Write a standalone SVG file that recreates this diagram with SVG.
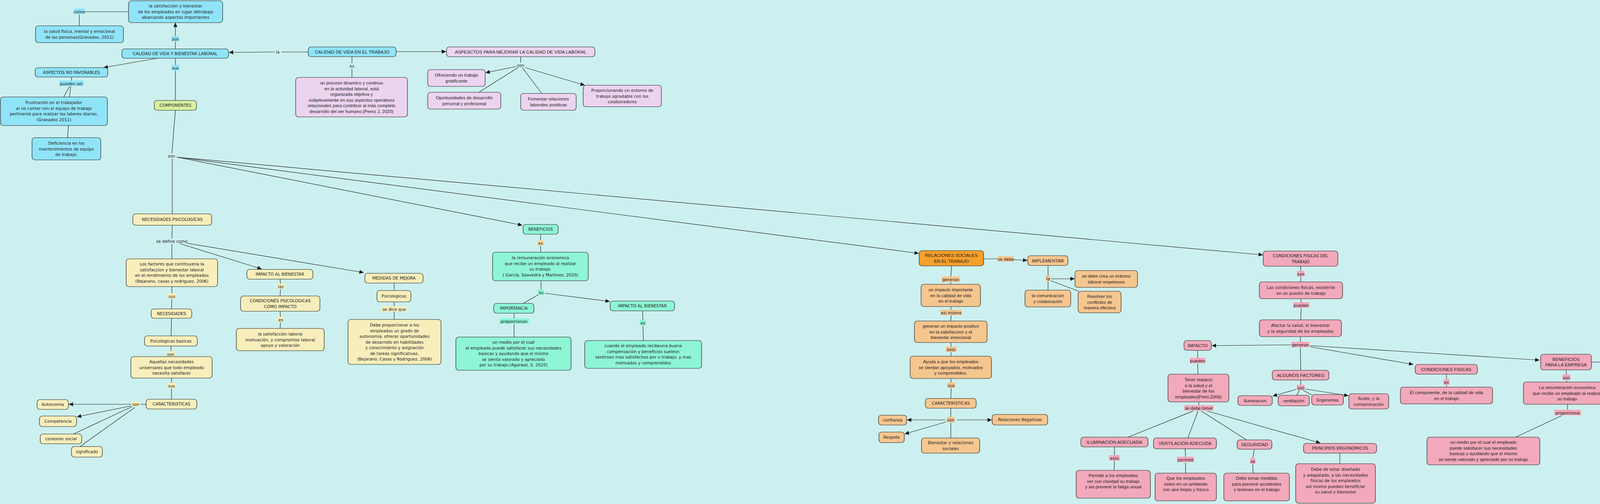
<svg xmlns="http://www.w3.org/2000/svg" width="4429" height="1289" viewBox="0 0 4429 1289">
<defs>
<style>
.bg{fill:#ccf0ef}
rect.n{stroke:#222;stroke-width:1.2}
.b{fill:#8fe4f8}.y{fill:#f7eebb}.g{fill:#d7f0a0}.l{fill:#ecd4f0}.t{fill:#8ef5d6}.o{fill:#f6c68f}.d{fill:#f7a02b}.p{fill:#f2a9bb}.e{fill:#f5dba0}
text{font-family:"DejaVu Sans",Verdana,sans-serif;font-size:10.5px;fill:#222;text-anchor:middle}
text.c{font-family:"Liberation Sans",Arial,sans-serif;font-size:11.5px}
#connectors line{stroke:#222;stroke-width:1.2}
</style>
<marker id="a" markerWidth="12" markerHeight="10" refX="11" refY="5" orient="auto" markerUnits="userSpaceOnUse"><path d="M0,0 L11,5 L0,10 z" fill="#111"/></marker>
</defs>
<rect class="bg" width="4429" height="1289"/>
<g id="connectors">
<line x1="329" y1="30" x2="216" y2="30"/><line x1="203" y1="37" x2="203" y2="66"/>
<line x1="449" y1="125" x2="449" y2="107"/><line x1="449" y1="93" x2="449" y2="58" marker-end="url(#a)"/>
<line x1="402" y1="149" x2="265" y2="173" marker-end="url(#a)"/>
<line x1="183" y1="197" x2="183" y2="207"/><line x1="181" y1="221" x2="178" y2="248"/><line x1="178" y1="221" x2="163" y2="248"/>
<line x1="175" y1="321" x2="173" y2="352"/>
<line x1="449" y1="149" x2="449" y2="167"/><line x1="449" y1="181" x2="449" y2="257"/>
<line x1="449" y1="282" x2="440" y2="392"/>
<line x1="441" y1="406" x2="441" y2="547"/>
<line x1="453" y1="402" x2="1337" y2="576" marker-end="url(#a)"/>
<line x1="453" y1="402" x2="2352" y2="648" marker-end="url(#a)"/>
<line x1="453" y1="402" x2="3233" y2="652" marker-end="url(#a)"/>
<line x1="441" y1="576" x2="440" y2="610"/><line x1="440" y1="624" x2="440" y2="662"/>
<line x1="460" y1="623" x2="670" y2="688" marker-end="url(#a)"/>
<line x1="478" y1="622" x2="931" y2="697" marker-end="url(#a)"/>
<line x1="440" y1="733" x2="440" y2="751"/><line x1="440" y1="765" x2="439" y2="790"/>
<line x1="439" y1="814" x2="438" y2="859"/>
<line x1="438" y1="885" x2="437" y2="912"/>
<line x1="439" y1="967" x2="439" y2="980"/><line x1="439" y1="994" x2="439" y2="1021"/>
<line x1="374" y1="1034" x2="360" y2="1034"/>
<line x1="336" y1="1034" x2="176" y2="1034" marker-end="url(#a)"/>
<line x1="336" y1="1038" x2="197" y2="1066" marker-end="url(#a)"/>
<line x1="338" y1="1040" x2="188" y2="1110"/>
<line x1="345" y1="1042" x2="205" y2="1142"/>
<line x1="789" y1="133" x2="720" y2="133"/><line x1="703" y1="133" x2="586" y2="134" marker-end="url(#a)"/>
<line x1="1014" y1="132" x2="1142" y2="132" marker-end="url(#a)"/>
<line x1="901" y1="145" x2="901" y2="162"/><line x1="901" y1="176" x2="901" y2="198"/>
<line x1="1333" y1="145" x2="1333" y2="160"/>
<line x1="1322" y1="170" x2="1243" y2="186" marker-end="url(#a)"/>
<line x1="1326" y1="173" x2="1226" y2="236"/>
<line x1="1337" y1="173" x2="1387" y2="239"/>
<line x1="1345" y1="173" x2="1497" y2="218" marker-end="url(#a)"/>
<line x1="717" y1="714" x2="718" y2="726"/><line x1="718" y1="740" x2="717" y2="757"/>
<line x1="717" y1="796" x2="718" y2="811"/><line x1="718" y1="825" x2="717" y2="840"/>
<line x1="1009" y1="724" x2="1009" y2="743"/>
<line x1="1009" y1="772" x2="1009" y2="784"/><line x1="1009" y1="798" x2="1009" y2="817"/>
<line x1="1384" y1="599" x2="1384" y2="615"/><line x1="1384" y1="629" x2="1384" y2="645"/>
<line x1="1385" y1="718" x2="1385" y2="741"/>
<line x1="1378" y1="754" x2="1339" y2="776"/>
<line x1="1395" y1="750" x2="1561" y2="771" marker-end="url(#a)"/>
<line x1="1316" y1="801" x2="1316" y2="815"/><line x1="1316" y1="829" x2="1316" y2="862"/>
<line x1="1645" y1="795" x2="1646" y2="819"/><line x1="1646" y1="833" x2="1647" y2="871"/>
<line x1="2518" y1="662" x2="2555" y2="662"/><line x1="2595" y1="664" x2="2630" y2="666" marker-end="url(#a)"/>
<line x1="2683" y1="679" x2="2683" y2="706"/><line x1="2683" y1="720" x2="2683" y2="742"/>
<line x1="2690" y1="713" x2="2751" y2="713" marker-end="url(#a)"/>
<line x1="2690" y1="718" x2="2762" y2="745"/>
<line x1="2436" y1="680" x2="2434" y2="708"/><line x1="2434" y1="722" x2="2434" y2="727"/>
<line x1="2434" y1="784" x2="2435" y2="793"/><line x1="2435" y1="807" x2="2434" y2="821"/>
<line x1="2434" y1="876" x2="2435" y2="887"/><line x1="2435" y1="901" x2="2434" y2="911"/>
<line x1="2434" y1="968" x2="2435" y2="979"/><line x1="2435" y1="993" x2="2434" y2="1019"/>
<line x1="2434" y1="1044" x2="2434" y2="1067"/><line x1="2434" y1="1081" x2="2434" y2="1120"/>
<line x1="2420" y1="1074" x2="2322" y2="1074" marker-end="url(#a)"/>
<line x1="2422" y1="1079" x2="2316" y2="1110" marker-end="url(#a)"/>
<line x1="2450" y1="1074" x2="2539" y2="1074" marker-end="url(#a)"/>
<line x1="3330" y1="681" x2="3330" y2="694"/><line x1="3330" y1="708" x2="3330" y2="721"/>
<line x1="3330" y1="764" x2="3331" y2="774"/><line x1="3331" y1="788" x2="3330" y2="818"/>
<line x1="3329" y1="861" x2="3329" y2="875"/>
<line x1="3305" y1="882" x2="3102" y2="884" marker-end="url(#a)"/>
<line x1="3329" y1="889" x2="3330" y2="947"/>
<line x1="3354" y1="887" x2="3618" y2="932" marker-end="url(#a)"/>
<line x1="3354" y1="884" x2="3941" y2="921" marker-end="url(#a)"/>
<line x1="3066" y1="896" x2="3066" y2="916"/><line x1="3066" y1="930" x2="3067" y2="957"/>
<line x1="3069" y1="1028" x2="3069" y2="1037"/>
<line x1="3055" y1="1051" x2="2888" y2="1118"/>
<line x1="3067" y1="1051" x2="3041" y2="1120"/>
<line x1="3075" y1="1051" x2="3191" y2="1125"/>
<line x1="3090" y1="1051" x2="3380" y2="1133" marker-end="url(#a)"/>
<line x1="3330" y1="972" x2="3330" y2="985"/>
<line x1="3318" y1="996" x2="3258" y2="1013" marker-end="url(#a)"/>
<line x1="3326" y1="998" x2="3320" y2="1011"/>
<line x1="3336" y1="998" x2="3358" y2="1010"/>
<line x1="3342" y1="995" x2="3452" y2="1012" marker-end="url(#a)"/>
<line x1="2853" y1="1143" x2="2853" y2="1165"/><line x1="2853" y1="1179" x2="2852" y2="1203"/>
<line x1="3034" y1="1148" x2="3035" y2="1169"/><line x1="3035" y1="1183" x2="3035" y2="1210"/>
<line x1="3211" y1="1149" x2="3207" y2="1173"/><line x1="3207" y1="1187" x2="3208" y2="1210"/>
<line x1="3430" y1="1159" x2="3430" y2="1186"/>
<line x1="3703" y1="957" x2="3703" y2="971"/><line x1="3703" y1="985" x2="3703" y2="990"/>
<line x1="4009" y1="946" x2="4010" y2="959"/><line x1="4010" y1="973" x2="4011" y2="977"/>
<line x1="4013" y1="1034" x2="4013" y2="1049"/><line x1="3998" y1="1063" x2="3880" y2="1118"/>
<line x1="4074" y1="926" x2="4162" y2="926"/><line x1="4187" y1="932" x2="4236" y2="996"/>
</g>
<g id="labels">
<rect class="b" x="190" y="22" width="27" height="14"/><text x="203" y="34">como</text>
<rect class="b" x="439" y="92" width="20" height="14"/><text x="449" y="104">son</text>
<rect class="b" x="152" y="206" width="62" height="14"/><text x="183" y="218">pueden ser</text>
<rect class="b" x="439" y="166" width="20" height="14"/><text x="449" y="178">sus</text>
<text x="439" y="403">son</text>
<text x="440" y="621">se define como</text>
<rect class="y" x="430" y="750" width="20" height="14"/><text x="440" y="762">sus</text>
<rect class="y" x="427" y="898" width="20" height="14"/><text x="437" y="910">son</text>
<rect class="y" x="429" y="979" width="20" height="14"/><text x="439" y="991">sus</text>
<rect class="y" x="338" y="1026" width="20" height="14"/><text x="348" y="1038">son</text>
<text x="711" y="137">la</text>
<text x="901" y="173">es</text>
<text x="1333" y="171">son</text>
<rect class="y" x="709" y="725" width="20" height="14"/><text x="719" y="737">las</text>
<rect class="y" x="711" y="810" width="16" height="14"/><text x="719" y="822">es</text>
<rect class="y" x="977" y="783" width="64" height="14"/><text x="1009" y="795">se dice que</text>
<rect class="e" x="1376" y="614" width="16" height="14"/><text x="1384" y="626">es</text>
<rect class="t" x="1377" y="740" width="16" height="14"/><text x="1385" y="752">su</text>
<rect class="t" x="1278" y="814" width="76" height="14"/><text x="1316" y="826">proporcionan</text>
<rect class="t" x="1638" y="818" width="16" height="14"/><text x="1646" y="830">es</text>
<rect class="o" x="2555" y="655" width="40" height="14"/><text x="2575" y="667">se debe</text>
<rect class="o" x="2677" y="705" width="12" height="14"/><text x="2683" y="717">la</text>
<rect class="o" x="2411" y="707" width="46" height="14"/><text x="2434" y="719">generan</text>
<rect class="o" x="2408" y="792" width="54" height="14"/><text x="2435" y="804">asi mismo</text>
<rect class="o" x="2421" y="886" width="28" height="14"/><text x="2435" y="898">esto</text>
<rect class="o" x="2425" y="978" width="20" height="14"/><text x="2435" y="990">sus</text>
<rect class="o" x="2424" y="1066" width="20" height="14"/><text x="2434" y="1078">son</text>
<rect class="p" x="3320" y="693" width="20" height="14"/><text x="3330" y="705">son</text>
<rect class="p" x="3311" y="773" width="40" height="14"/><text x="3331" y="785">pueden</text>
<rect class="p" x="3306" y="874" width="46" height="14"/><text x="3329" y="886">generan</text>
<rect class="p" x="3046" y="915" width="40" height="14"/><text x="3066" y="927">pueden</text>
<rect class="p" x="3032" y="1036" width="74" height="14"/><text x="3069" y="1048">se debe tener</text>
<rect class="p" x="3320" y="984" width="20" height="14"/><text x="3330" y="996">son</text>
<rect class="p" x="2839" y="1164" width="28" height="14"/><text x="2853" y="1176">esto</text>
<rect class="p" x="3013" y="1168" width="44" height="14"/><text x="3035" y="1180">permite</text>
<rect class="p" x="3200" y="1172" width="14" height="14"/><text x="3207" y="1184">se</text>
<rect class="p" x="3695" y="970" width="16" height="14"/><text x="3703" y="982">es</text>
<rect class="p" x="4000" y="958" width="20" height="14"/><text x="4010" y="970">son</text>
<rect class="p" x="3979" y="1048" width="68" height="14"/><text x="4013" y="1060">proporciona</text>
<rect class="p" x="4162" y="916" width="36" height="14"/><text x="4180" y="928">genera</text>
</g>
<g id="n1"><rect class="n b" x="329" y="2" width="241" height="56" rx="7"/><text x="449.5" y="19"><tspan x="449.5">la satisfacción y bienestar</tspan><tspan x="449.5" dy="14.5">de los empleados en lugar detrabajo</tspan><tspan x="449.5" dy="14.5">abarcando aspectos importantes</tspan></text></g>
<g id="n2"><rect class="n b" x="91" y="66" width="225" height="43" rx="7"/><text x="203.5" y="84"><tspan x="203.5">la salud fisica, mental y emocional</tspan><tspan x="203.5" dy="14.5">de las personas(Granados, 2011)</tspan></text></g>
<g id="n3"><rect class="n b" x="312" y="125" width="273" height="24" rx="7"/><text x="448.5" y="141">CALIDAD DE VIDA Y BIENESTAR LABORAL</text></g>
<g id="n4"><rect class="n b" x="90" y="173" width="186" height="24" rx="7"/><text x="183" y="189">ASPECTOS NO FAVORABLES</text></g>
<g id="n5"><rect class="n b" x="1" y="248" width="274" height="73" rx="7"/><text x="138" y="266"><tspan x="138">Frustración en el trabajador</tspan><tspan x="138" dy="14.5">al no contar con el equipo de trabajo</tspan><tspan x="138" dy="14.5">pertinente para realizar las labores diarias.</tspan><tspan x="138" dy="14.5">(Granados 2011)</tspan></text></g>
<g id="n6"><rect class="n b" x="82" y="352" width="176" height="57" rx="7"/><text x="170" y="370"><tspan x="170">Deficiencia en los</tspan><tspan x="170" dy="14.5">mantenimientos de equipo</tspan><tspan x="170" dy="14.5">de trabajo.</tspan></text></g>
<g id="n7"><rect class="n g" x="395" y="257" width="108" height="25" rx="7"/><text x="449" y="273">COMPONENTES</text></g>
<g id="n8"><rect class="n y" x="340" y="547" width="202" height="29" rx="7"/><text x="441" y="565">NECESIDADES PSICOLOGÍCAS</text></g>
<g id="n9"><rect class="n y" x="323" y="662" width="234" height="71" rx="7"/><text x="440" y="679"><tspan x="440">Los factores que contituyena la</tspan><tspan x="440" dy="14.5">satisfaccíon y bienestar laboral</tspan><tspan x="440" dy="14.5">en el rendimiento de los empleados</tspan><tspan x="440" dy="14.5">(Bejarano, casas y rodriguez, 2006)</tspan></text></g>
<g id="n10"><rect class="n y" x="387" y="790" width="104" height="24" rx="7"/><text x="439" y="806">NECESIDADES</text></g>
<g id="n11"><rect class="n y" x="370" y="859" width="135" height="26" rx="7"/><text x="437.5" y="876">Psicologicas basicas</text></g>
<g id="n12"><rect class="n y" x="335" y="912" width="208" height="55" rx="7"/><text x="439" y="929"><tspan x="439">Aquellas necesidades</tspan><tspan x="439" dy="14.5">universales que todo empleado</tspan><tspan x="439" dy="14.5">necesita satisfacer</tspan></text></g>
<g id="n13"><rect class="n y" x="374" y="1021" width="130" height="25" rx="7"/><text x="439" y="1037">CARACTERISTICAS</text></g>
<g id="n14"><rect class="n y" x="95" y="1022" width="80" height="25" rx="7"/><text x="135" y="1038">Autonomia</text></g>
<g id="n15"><rect class="n y" x="101" y="1064" width="95" height="27" rx="7"/><text x="148.5" y="1081">Competencia</text></g>
<g id="n16"><rect class="n y" x="103" y="1110" width="106" height="25" rx="7"/><text x="156" y="1126">conexion social</text></g>
<g id="n17"><rect class="n y" x="183" y="1142" width="79" height="27" rx="7"/><text x="222.5" y="1159">significado</text></g>
<g id="n18"><rect class="n b" x="789" y="120" width="225" height="25" rx="7"/><text class="c" x="901.5" y="136.5">CALIDAD DE VIDA EN EL TRABAJO</text></g>
<g id="n19"><rect class="n l" x="1143" y="120" width="380" height="25" rx="7"/><text class="c" x="1333" y="136.5">ASPESCTOS PARA MEJORAR LA CALIDAD DE VIDA LABORAL</text></g>
<g id="n20"><rect class="n l" x="757" y="198" width="286" height="101" rx="7"/><text class="c" x="900" y="216"><tspan x="900">un proceso dinamico y continuo</tspan><tspan x="900" dy="14.5">en la actividad laboral, está</tspan><tspan x="900" dy="14.5">organizada objetiva y</tspan><tspan x="900" dy="14.5">subjetivamente en sus aspectos operativos</tspan><tspan x="900" dy="14.5">relacionales para contribuir al más completo</tspan><tspan x="900" dy="14.5">desarrollo del ser humano.(Perez J, 2020)</tspan></text></g>
<g id="n21"><rect class="n l" x="1095" y="178" width="147" height="43" rx="7"/><text class="c" x="1168.5" y="196"><tspan x="1168.5">Ofreciendo un trabajo</tspan><tspan x="1168.5" dy="14.5">gratificante</tspan></text></g>
<g id="n22"><rect class="n l" x="1095" y="236" width="187" height="43" rx="7"/><text class="c" x="1188.5" y="254"><tspan x="1188.5">Oportunidades de desarrollo</tspan><tspan x="1188.5" dy="14.5">personal y profesional</tspan></text></g>
<g id="n23"><rect class="n l" x="1333" y="239" width="142" height="43" rx="7"/><text class="c" x="1404" y="257"><tspan x="1404">Fomentar relaciones</tspan><tspan x="1404" dy="14.5">laborales positivas</tspan></text></g>
<g id="n24"><rect class="n l" x="1493" y="218" width="200" height="55" rx="7"/><text x="1593" y="235"><tspan x="1593">Proporcionando un entorno de</tspan><tspan x="1593" dy="14.5">trabajo agradable con los</tspan><tspan x="1593" dy="14.5">colaboradores</tspan></text></g>
<g id="n25"><rect class="n y" x="632" y="689" width="169" height="25" rx="7"/><text x="716.5" y="705">IMPACTO  AL BIENESTAR</text></g>
<g id="n26"><rect class="n y" x="616" y="757" width="203" height="39" rx="7"/><text x="717.5" y="773"><tspan x="717.5">CONDICIONES PSICOLOGICAS</tspan><tspan x="717.5" dy="14.5">COMO IMPACTO</tspan></text></g>
<g id="n27"><rect class="n y" x="605" y="840" width="225" height="57" rx="7"/><text x="717.5" y="858"><tspan x="717.5">la satisfacción laboral</tspan><tspan x="717.5" dy="14.5">motivación, y compromiso laboral</tspan><tspan x="717.5" dy="14.5">apoyo y valoración</tspan></text></g>
<g id="n28"><rect class="n y" x="934" y="699" width="149" height="25" rx="7"/><text x="1008.5" y="715">MEDIDAS DE MEJORA</text></g>
<g id="n29"><rect class="n y" x="965" y="743" width="87" height="29" rx="7"/><text x="1008.5" y="761">Psicologícas</text></g>
<g id="n30"><rect class="n y" x="891" y="817" width="238" height="115" rx="7"/><text x="1010" y="835"><tspan x="1010">Debe proporcionar a los</tspan><tspan x="1010" dy="14.5">empleados un grado de</tspan><tspan x="1010" dy="14.5">autonomia, ofrecer oportunidades</tspan><tspan x="1010" dy="14.5">de desarrollo en habilidades</tspan><tspan x="1010" dy="14.5">y conocimiento y asignación</tspan><tspan x="1010" dy="14.5">de tareas significativas.</tspan><tspan x="1010" dy="14.5">(Bejarano, Casas y Rodriguez, 2006)</tspan></text></g>
<g id="n31"><rect class="n t" x="1339" y="574" width="90" height="25" rx="7"/><text x="1384" y="590">BENEFICIOS</text></g>
<g id="n32"><rect class="n t" x="1261" y="645" width="245" height="73" rx="7"/><text x="1383.5" y="663"><tspan x="1383.5">la remuneración economica</tspan><tspan x="1383.5" dy="14.5">que recibe un empleado al realizar</tspan><tspan x="1383.5" dy="14.5">su trabajo.</tspan><tspan x="1383.5" dy="14.5">( Garcia, Saavedra y Martinez, 2020)</tspan></text></g>
<g id="n33"><rect class="n t" x="1264" y="776" width="103" height="25" rx="7"/><text x="1315.5" y="792">IMPORTANCIA</text></g>
<g id="n34"><rect class="n t" x="1167" y="862" width="295" height="85" rx="7"/><text x="1314.5" y="879"><tspan x="1314.5">un medio por el cual</tspan><tspan x="1314.5" dy="14.5">el empleado puede satisfacer sus necesidades</tspan><tspan x="1314.5" dy="14.5">basicas y ayudando que el mismo</tspan><tspan x="1314.5" dy="14.5">se sienta valorado y apreciado</tspan><tspan x="1314.5" dy="14.5">por su trabajo.(Agarwal, S. 2020)</tspan></text></g>
<g id="n35"><rect class="n t" x="1562" y="770" width="165" height="25" rx="7"/><text x="1644.5" y="786">IMPACTO AL BIENESTAR</text></g>
<g id="n36"><rect class="n t" x="1497" y="871" width="299" height="71" rx="7"/><text x="1646.5" y="888"><tspan x="1646.5">cuando el empleado recibeuna buena</tspan><tspan x="1646.5" dy="14.5">compensación y beneficios suelesn</tspan><tspan x="1646.5" dy="14.5">sentirsen mas satisfechos por u trabajo, y mas</tspan><tspan x="1646.5" dy="14.5">motivados y comprendidos</tspan></text></g>
<g id="n37"><rect class="n d" x="2353" y="641" width="165" height="39" rx="7"/><text class="c" x="2435.5" y="657"><tspan x="2435.5">RELACIONES SOCIALES</tspan><tspan x="2435.5" dy="14.5">EN EL TRABAJO</tspan></text></g>
<g id="n38"><rect class="n o" x="2631" y="654" width="103" height="25" rx="7"/><text class="c" x="2682.5" y="670.5">IMPLEMENTAR</text></g>
<g id="n39"><rect class="n o" x="2624" y="742" width="117" height="43" rx="7"/><text class="c" x="2682.5" y="760"><tspan x="2682.5">la comunicacion</tspan><tspan x="2682.5" dy="14.5">y colaboración</tspan></text></g>
<g id="n40"><rect class="n o" x="2752" y="692" width="160" height="43" rx="7"/><text class="c" x="2832" y="710"><tspan x="2832">se debe crea un entorno</tspan><tspan x="2832" dy="14.5">laboral respetuoso</tspan></text></g>
<g id="n41"><rect class="n o" x="2760" y="745" width="110" height="55" rx="7"/><text class="c" x="2815" y="762"><tspan x="2815">Resolver los</tspan><tspan x="2815" dy="14.5">conflictos de</tspan><tspan x="2815" dy="14.5">manera efectiva</tspan></text></g>
<g id="n42"><rect class="n o" x="2358" y="727" width="152" height="57" rx="7"/><text class="c" x="2434" y="745"><tspan x="2434">un impacto importante</tspan><tspan x="2434" dy="14.5">en la calidad de vida</tspan><tspan x="2434" dy="14.5">en el trabajo</tspan></text></g>
<g id="n43"><rect class="n o" x="2341" y="821" width="186" height="55" rx="7"/><text class="c" x="2434" y="838"><tspan x="2434">generan un impacto positivo</tspan><tspan x="2434" dy="14.5">en la satisfaccion y el</tspan><tspan x="2434" dy="14.5">bienestar emocional</tspan></text></g>
<g id="n44"><rect class="n o" x="2330" y="911" width="208" height="57" rx="7"/><text class="c" x="2434" y="929"><tspan x="2434">Ayuda a que los empleados</tspan><tspan x="2434" dy="14.5">se sientan apoyados, motivados</tspan><tspan x="2434" dy="14.5">y comprendidos.</tspan></text></g>
<g id="n45"><rect class="n o" x="2369" y="1019" width="130" height="25" rx="7"/><text x="2434" y="1035">CARACTERISTICAS</text></g>
<g id="n46"><rect class="n o" x="2249" y="1062" width="72" height="25" rx="7"/><text x="2285" y="1078">confianza</text></g>
<g id="n47"><rect class="n o" x="2250" y="1105" width="65" height="27" rx="7"/><text x="2282.5" y="1122">Respeto</text></g>
<g id="n48"><rect class="n o" x="2540" y="1060" width="142" height="27" rx="7"/><text x="2611" y="1077">Relaciones Negativas</text></g>
<g id="n49"><rect class="n o" x="2359" y="1120" width="149" height="39" rx="7"/><text x="2433.5" y="1136"><tspan x="2433.5">Bienestar y relaciones</tspan><tspan x="2433.5" dy="14.5">sociales</tspan></text></g>
<g id="n50"><rect class="n p" x="3234" y="642" width="191" height="39" rx="7"/><text x="3329.5" y="658"><tspan x="3329.5">CONDICIONES FISICAS DEL</tspan><tspan x="3329.5" dy="14.5">TRABAJO</tspan></text></g>
<g id="n51"><rect class="n p" x="3224" y="721" width="213" height="43" rx="7"/><text x="3330.5" y="739"><tspan x="3330.5">Las condiciones fisicas, existente</tspan><tspan x="3330.5" dy="14.5">en un puesto de trabajo</tspan></text></g>
<g id="n52"><rect class="n p" x="3224" y="818" width="210" height="43" rx="7"/><text x="3329" y="836"><tspan x="3329">Afectar la salud, el bienestar</tspan><tspan x="3329" dy="14.5">y la seguridad de los empleados</tspan></text></g>
<g id="n53"><rect class="n p" x="3031" y="871" width="70" height="25" rx="7"/><text class="c" x="3066" y="887.5">IMPACTO</text></g>
<g id="n54"><rect class="n p" x="2990" y="957" width="156" height="71" rx="7"/><text class="c" x="3068" y="975"><tspan x="3068">Tener impacto</tspan><tspan x="3068" dy="14.5">a la salud y el</tspan><tspan x="3068" dy="14.5">bienestar de los</tspan><tspan x="3068" dy="14.5">empleados(Peiró,2006)</tspan></text></g>
<g id="n55"><rect class="n p" x="3257" y="947" width="145" height="25" rx="7"/><text class="c" x="3329.5" y="963.5">ALGUNOS FACTORES</text></g>
<g id="n56"><rect class="n p" x="3169" y="1012" width="88" height="25" rx="7"/><text class="c" x="3213" y="1028.5">Iluminacion</text></g>
<g id="n57"><rect class="n p" x="3272" y="1011" width="80" height="27" rx="7"/><text class="c" x="3312" y="1028.5">ventilación</text></g>
<g id="n58"><rect class="n p" x="3358" y="1009" width="81" height="27" rx="7"/><text class="c" x="3398.5" y="1026.5">Ergonomia</text></g>
<g id="n59"><rect class="n p" x="3453" y="1007" width="102" height="39" rx="7"/><text x="3504" y="1023"><tspan x="3504">Ruido, y la</tspan><tspan x="3504" dy="14.5">contaminación</tspan></text></g>
<g id="n60"><rect class="n p" x="2767" y="1118" width="172" height="25" rx="7"/><text class="c" x="2853" y="1134.5">ILUMINACION ADECUADA</text></g>
<g id="n61"><rect class="n p" x="2755" y="1203" width="190" height="71" rx="7"/><text class="c" x="2850" y="1220"><tspan x="2850">Permite a los empleados</tspan><tspan x="2850" dy="14.5">ver con claridad su trabajo</tspan><tspan x="2850" dy="14.5">y asi prevenir la fatiga visual</tspan></text></g>
<g id="n62"><rect class="n p" x="2953" y="1120" width="161" height="28" rx="7"/><text class="c" x="3033.5" y="1138">VENTILACIÓN ADECUDA</text></g>
<g id="n63"><rect class="n p" x="2957" y="1210" width="157" height="71" rx="7"/><text class="c" x="3035.5" y="1227"><tspan x="3035.5">Que los empleados</tspan><tspan x="3035.5" dy="14.5">esten en un ambiente</tspan><tspan x="3035.5" dy="14.5">con aire limpio y fresco</tspan></text></g>
<g id="n64"><rect class="n p" x="3167" y="1125" width="89" height="24" rx="7"/><text class="c" x="3211.5" y="1141">SEGURIDAD</text></g>
<g id="n65"><rect class="n p" x="3133" y="1210" width="168" height="71" rx="7"/><text class="c" x="3217" y="1227"><tspan x="3217">Debe tomar medidas</tspan><tspan x="3217" dy="14.5">para prevenir accidentes</tspan><tspan x="3217" dy="14.5">y lesiones en el trabajo</tspan></text></g>
<g id="n66"><rect class="n p" x="3337" y="1134" width="187" height="25" rx="7"/><text x="3430.5" y="1150">PRINCIPIOS ERGONOMICOS</text></g>
<g id="n67"><rect class="n p" x="3317" y="1186" width="204" height="101" rx="7"/><text x="3419" y="1204"><tspan x="3419">Debe de estar diseñado</tspan><tspan x="3419" dy="14.5">y adapatado, a las necesidades</tspan><tspan x="3419" dy="14.5">fisicas de los empleados</tspan><tspan x="3419" dy="14.5">asi mismo pueden beneficiar</tspan><tspan x="3419" dy="14.5">su salud y bienestar</tspan></text></g>
<g id="n68"><rect class="n p" x="3623" y="932" width="159" height="25" rx="7"/><text class="c" x="3702.5" y="948.5">CONDICIONES FISICAS</text></g>
<g id="n69"><rect class="n p" x="3585" y="990" width="236" height="43" rx="7"/><text class="c" x="3703" y="1008"><tspan x="3703">El componente, de la calidad de vida</tspan><tspan x="3703" dy="14.5">en el trabajo</tspan></text></g>
<g id="n70"><rect class="n p" x="3944" y="906" width="130" height="40" rx="7"/><text class="c" x="4009" y="922.5"><tspan x="4009">BENEFICIOS</tspan><tspan x="4009" dy="14.5">PARA LA EMPRESA</tspan></text></g>
<g id="n71"><rect class="n p" x="3900" y="977" width="224" height="57" rx="7"/><text class="c" x="4012" y="995"><tspan x="4012">La renumeración economica</tspan><tspan x="4012" dy="14.5">que recibe un empleado al realizar</tspan><tspan x="4012" dy="14.5">su trabajo</tspan></text></g>
<g id="n72"><rect class="n p" x="3653" y="1118" width="289" height="71" rx="7"/><text class="c" x="3797.5" y="1135"><tspan x="3797.5">un medio por el cual el empleado</tspan><tspan x="3797.5" dy="14.5">puede satisfacer sus necesidades</tspan><tspan x="3797.5" dy="14.5">basicas y ayudando que el  mismo</tspan><tspan x="3797.5" dy="14.5">se siente valorado y apreciado por su trabajo</tspan></text></g>
<g id="n73"><rect class="n p" x="4146" y="996" width="264" height="101" rx="7"/><text class="c" x="4278" y="1010" font-size="10.5"><tspan x="4278">Impacto al bienestar, al recibir</tspan><tspan x="4278" dy="14.5">el empleadouna buena compensacion</tspan><tspan x="4278" dy="14.5">y beneficios suelen sentirsen mas</tspan><tspan x="4278" dy="14.5">satisfechos por su trabajo y por ende mas</tspan><tspan x="4278" dy="14.5">motivados y comprendidos</tspan><tspan x="4278" dy="14.5">(Agarwal,S.2020)</tspan></text></g>
</svg>
